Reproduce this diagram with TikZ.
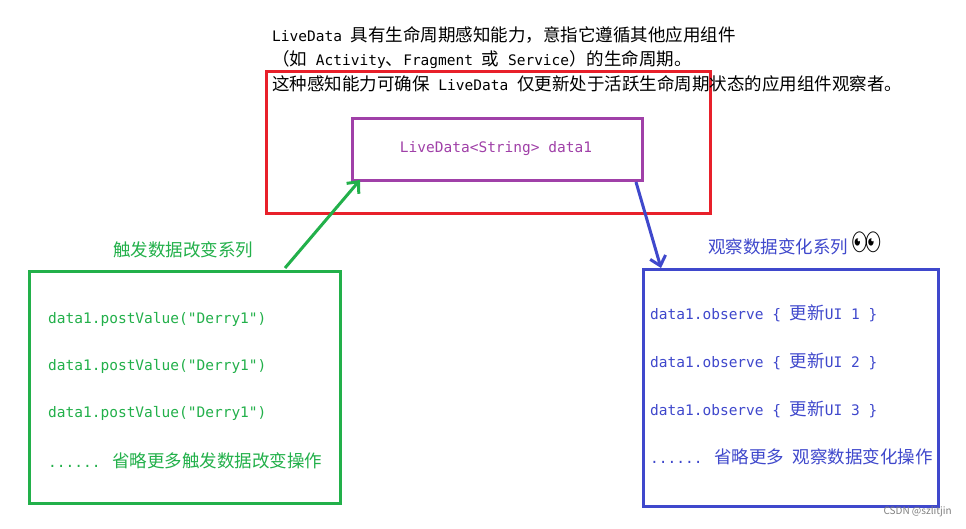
\documentclass[tikz,border=0pt]{standalone}
\usepackage{fontspec}
\setmainfont{Noto Sans CJK SC}
\newfontfamily\monoly{DejaVu Sans Mono}
\newfontfamily\emo{Noto Emoji}
\newcommand\mm[1]{{\monoly\fontsize{14.5}{16}\selectfont #1}}
\usetikzlibrary{arrows.meta}
\definecolor{cred}{HTML}{E8202A}
\definecolor{cpur}{HTML}{A040A8}
\definecolor{cgrn}{HTML}{22B04A}
\definecolor{cblu}{HTML}{3F48CC}
\tikzset{box/.style={draw,line width=3pt},
 txt/.style={anchor=west,inner sep=0pt,font=\fontsize{17.5}{19}\selectfont},
 arr/.style={line width=3pt,-{Straight Barb[length=9pt,width=16pt]}}}
\begin{document}
\begin{tikzpicture}[x=1pt,y=-1pt]
\useasboundingbox[fill=white] (0,0) rectangle (966,528);
\draw[box,cred] (266,71) rectangle (710,213);
\node[box,cpur,minimum width=290pt,minimum height=62pt,anchor=north west,inner sep=0pt] (ld) at (351,117) {};
\node[txt,cpur,anchor=center] at (496,149) {\mm{LiveData<String> data1}};
\node[txt] at (272,35) {\mm{LiveData }具有生命周期感知能力，意指它遵循其他应用组件};
\node[txt] at (272,60) {（如\mm{ Activity}、\mm{Fragment }或\mm{ Service}）的生命周期。};
\node[txt] at (272,84) {这种感知能力可确保\mm{ LiveData }仅更新处于活跃生命周期状态的应用组件观察者。};
\node[box,cgrn,minimum width=311pt,minimum height=232pt,anchor=north west,inner sep=0pt] (g) at (28,270) {};
\node[box,cblu,minimum width=295pt,minimum height=237pt,anchor=north west,inner sep=0pt] (b) at (642,268) {};
\node[txt,cgrn,anchor=center] (gl) at (183,250) {触发数据改变系列};
\node[txt,cblu,anchor=center] (bl) at (778,247) {观察数据变化系列};
\node[txt,anchor=west] (eye) at (851,242) {\emo\fontsize{24}{26}\selectfont 👀};
\foreach \y in {319,366,413}
  \node[txt,cgrn] at (48,\y) {\mm{data1.postValue("Derry1")}};
\node[txt,cgrn] at (48,461) {\mm{......  }省略更多触发数据改变操作};
\foreach \y/\n in {313/1,361/2,409/3}
  \node[txt,cblu] at (650,\y) {\mm{data1.observe \{ }更新\mm{UI \n\ \}}};
\node[txt,cblu] at (650,457) {\mm{......  }省略更多\mm{ }观察数据变化操作};
\coordinate (gs) at (285,268);
\coordinate (ge) at (360,180);
\coordinate (bs) at (636,182);
\coordinate (be) at (661,268);
\draw[arr,cgrn] (gs) -- (ge);
\draw[arr,cblu] (bs) -- (be);
\node[txt,gray,font=\fontsize{10}{11}\selectfont,anchor=east] at (952,512) {CSDN @szlitjin};
\end{tikzpicture}
\end{document}
